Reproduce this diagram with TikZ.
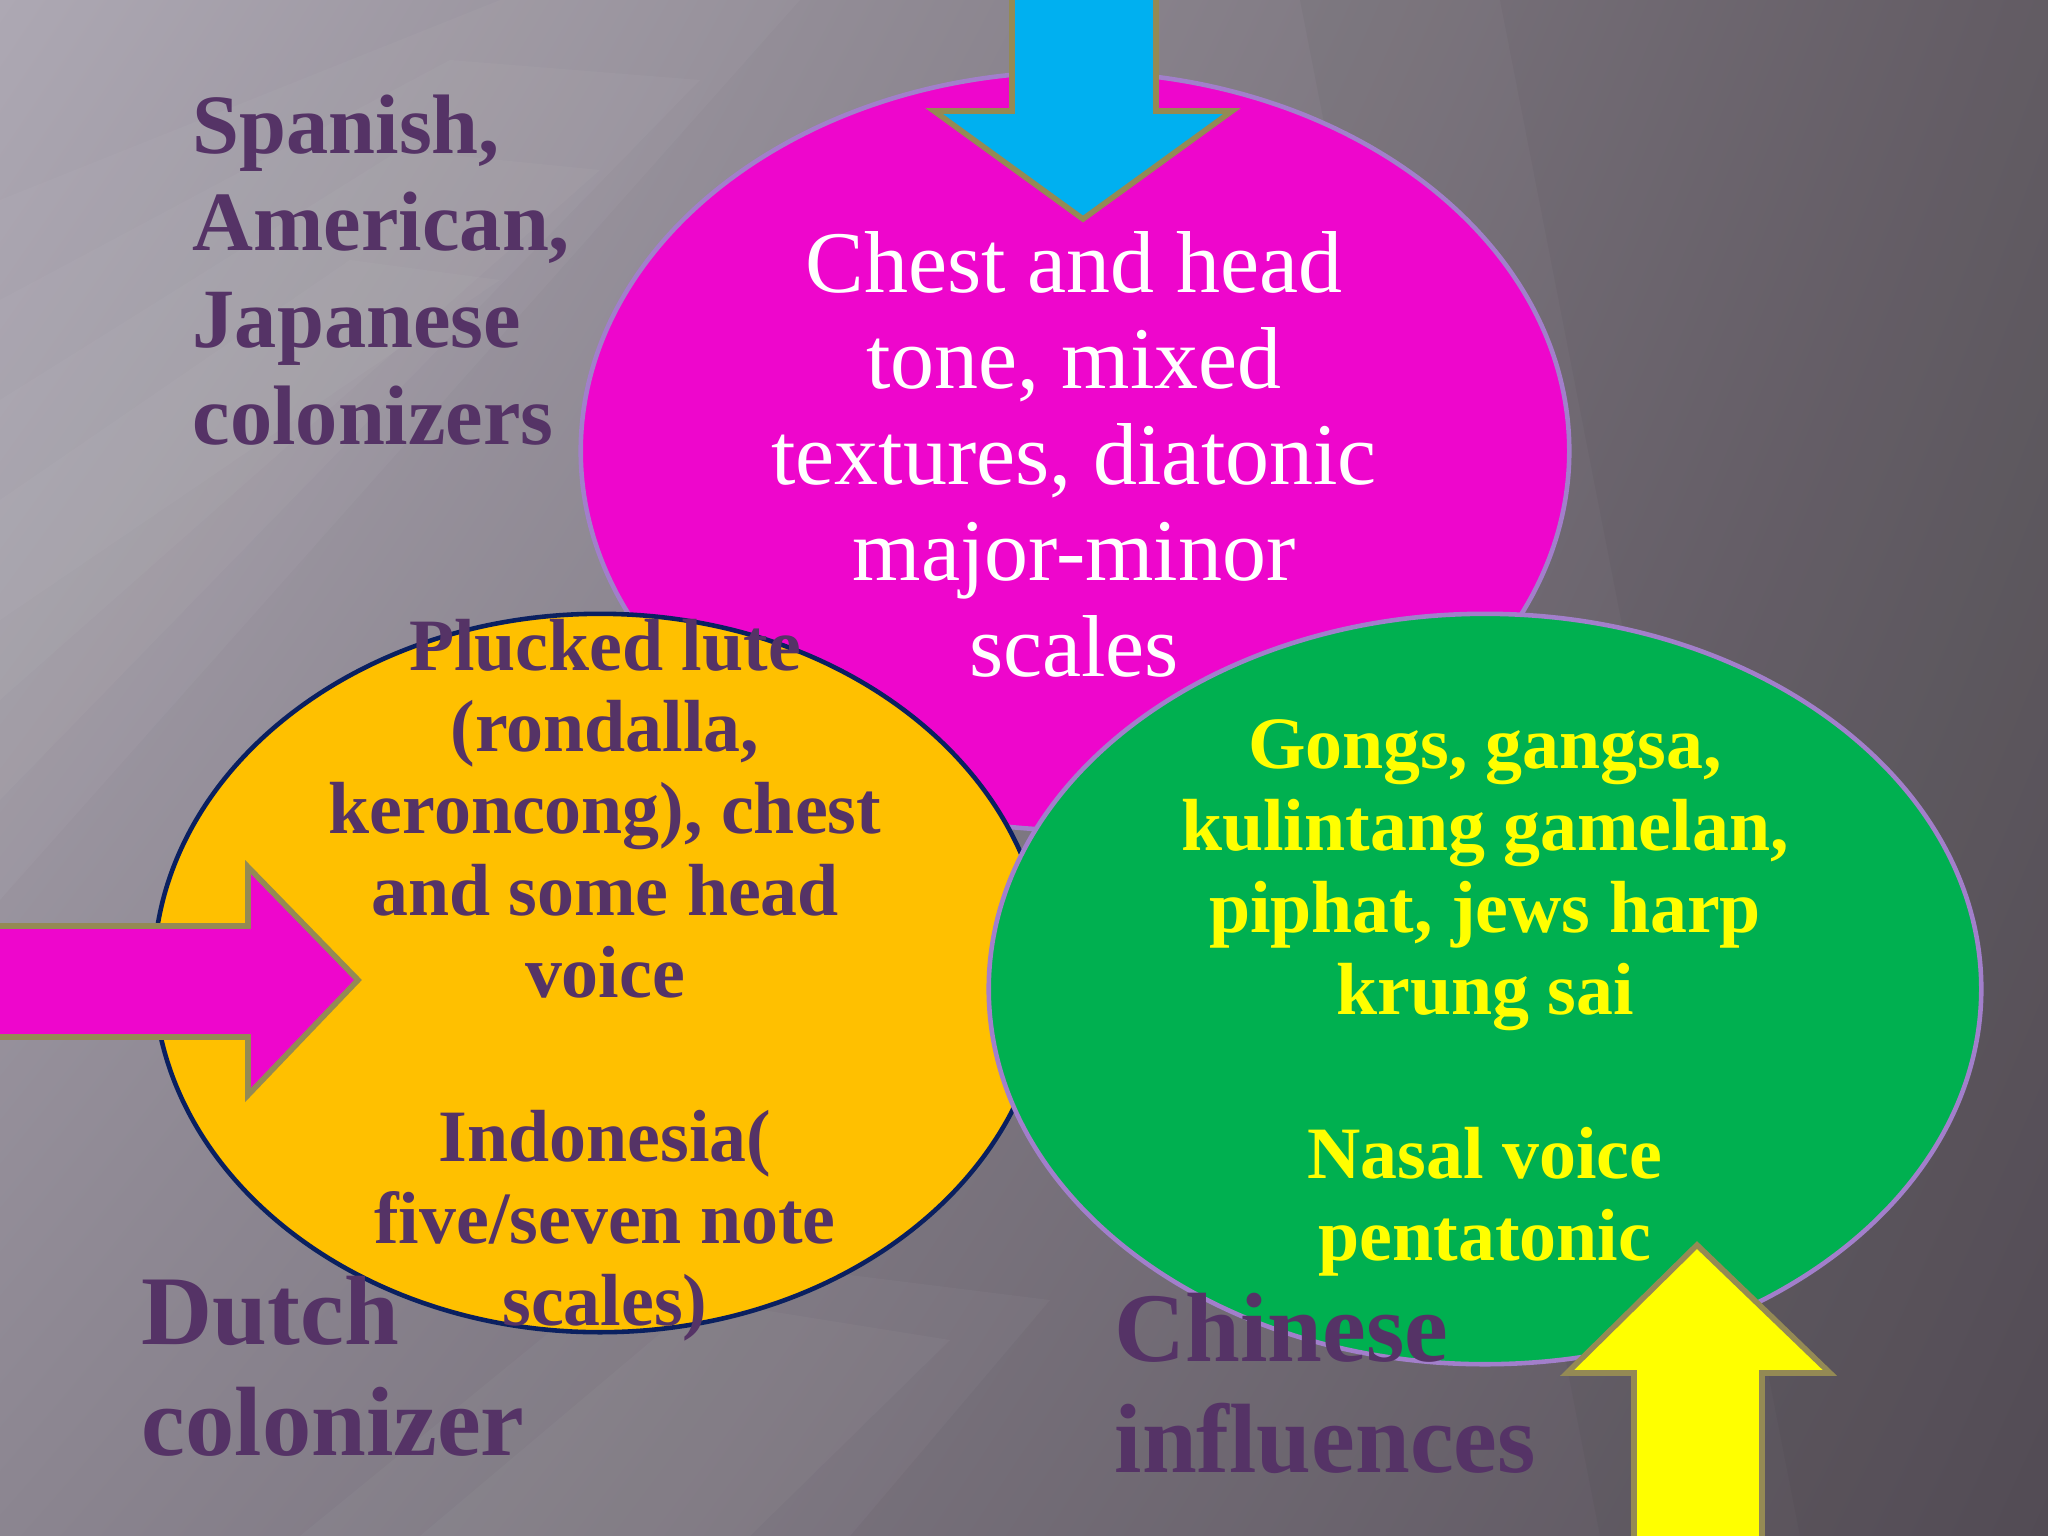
\documentclass[tikz,border=0pt]{standalone}
\usepackage{fontspec}
\setmainfont{Liberation Serif}
\usetikzlibrary{shapes.geometric,shadings}
\definecolor{bgTL}{HTML}{ADA8B3}
\definecolor{bgTR}{HTML}{6A636B}
\definecolor{bgBL}{HTML}{8B8590}
\definecolor{bgBR}{HTML}{58515A}
\definecolor{magc}{HTML}{EE06CC}
\definecolor{orangec}{HTML}{FFC000}
\definecolor{greenc}{HTML}{00B050}
\definecolor{bluec}{HTML}{00B0F0}
\definecolor{yellowc}{HTML}{FFFF00}
\definecolor{rimc}{HTML}{A27FCB}
\definecolor{navyc}{HTML}{0A2060}
\definecolor{olivec}{HTML}{948A54}
\definecolor{txtpurple}{HTML}{553366}
\tikzset{
  bubble/.style={ellipse, inner sep=0pt, line width=1.3pt},
  bigarrow/.style={draw=olivec, line width=1.6pt, miter limit=10},
  bodytext/.style={inner sep=0pt, align=center},
  labeltext/.style={inner sep=0pt, align=left, anchor=west, text=txtpurple, font=\bfseries},
  streak/.style={fill=white, opacity=0.03}
}
\begin{document}
\begin{tikzpicture}[x=0.01cm,y=-0.01cm]
\useasboundingbox (0,0) rectangle (2048,1536);
% background
\shade[upper left=bgTL, upper right=bgTR, lower left=bgBL, lower right=bgBR] (0,0) rectangle (2048,1536);
% soft light streaks (stacked for soft edges)
\fill[streak] (0,200) -- (500,0) -- (800,0) -- (0,900) -- cycle;
\fill[streak] (0,300) -- (450,60) -- (700,80) -- (0,800) -- cycle;
\fill[streak] (0,400) -- (400,150) -- (600,170) -- (0,700) -- cycle;
\fill[streak] (0,500) -- (350,260) -- (500,280) -- (0,620) -- cycle;
\fill[streak] (300,1536) -- (650,1250) -- (1050,1300) -- (850,1536) -- cycle;
\fill[streak] (420,1536) -- (700,1300) -- (950,1340) -- (750,1536) -- cycle;
\fill[black, opacity=0.03] (1300,0) -- (2048,0) -- (2048,1536) -- (1600,1536) -- cycle;
\fill[black, opacity=0.03] (1500,0) -- (2048,0) -- (2048,1536) -- (1800,1536) -- cycle;

% ellipses and arrows
\node[bubble, fill=magc, draw=rimc, minimum width=9.88cm, minimum height=7.58cm] (top) at (1075,451) {};
\draw[bigarrow, fill=bluec] (1012,-10) -- (1156,-10) -- (1156,111) -- (1232,111) -- (1083,219) -- (934,111) -- (1012,111) -- cycle;
\node[bubble, fill=orangec, draw=navyc, minimum width=8.92cm, minimum height=7.18cm] (left) at (600,973) {};
\node[bubble, fill=greenc, draw=rimc, minimum width=9.92cm, minimum height=7.50cm] (right) at (1485,989) {};
\draw[bigarrow, fill=magc] (-10,926) -- (248,926) -- (248,867) -- (358,980) -- (248,1095) -- (248,1037) -- (-10,1037) -- cycle;
\draw[bigarrow, fill=yellowc] (1697,1245) -- (1830,1373) -- (1762,1373) -- (1762,1546) -- (1634,1546) -- (1634,1373) -- (1567,1373) -- cycle;

% texts
\node[bodytext, text=white, font=\fontsize{25}{27.3}\selectfont] (ttop) at (1074,454)
  {Chest and head\\tone, mixed\\textures, diatonic\\major-minor\\scales};
\node[bodytext, text=txtpurple, font=\bfseries\fontsize{21}{23.3}\selectfont] (tleft) at (605,980)
  {Plucked lute\\(rondalla,\\keroncong), chest\\and some head\\voice\\[23.3pt]Indonesia(\\five/seven note\\scales)};
\node[bodytext, text=yellowc, font=\bfseries\fontsize{21}{23.3}\selectfont] (tright) at (1485,998)
  {Gongs, gangsa,\\kulintang gamelan,\\piphat, jews harp\\krung sai\\[23.3pt]Nasal voice\\pentatonic};

\node[labeltext, font=\bfseries\fontsize{24}{27.6}\selectfont] (lspan) at (192,270)
  {Spanish,\\American,\\Japanese\\colonizers};
\node[labeltext, font=\bfseries\fontsize{28}{31.6}\selectfont] (ldutch) at (141,1366)
  {Dutch\\colonizer};
\node[labeltext, font=\bfseries\fontsize{28}{31.6}\selectfont] (lchin) at (1114,1383)
  {Chinese\\influences};
\end{tikzpicture}
\end{document}
